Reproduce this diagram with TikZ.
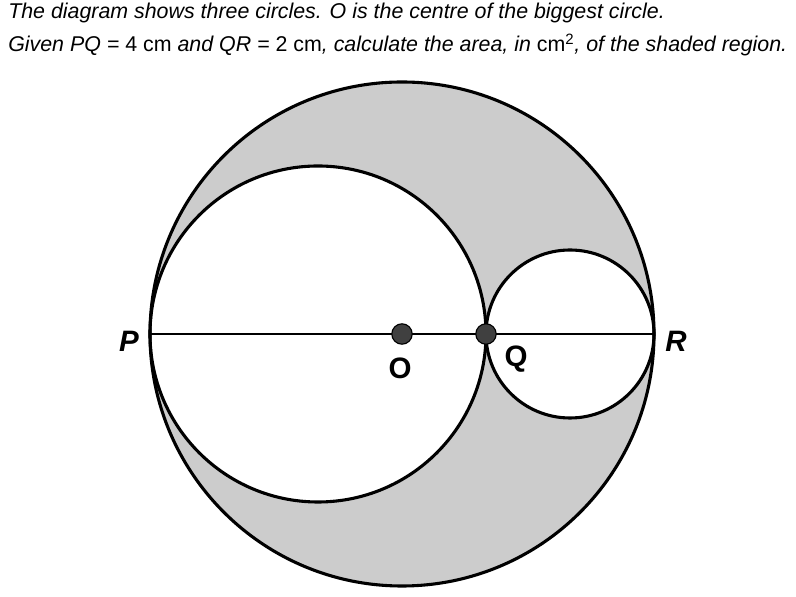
\documentclass[tikz,border=0pt]{standalone}
\usepackage{fontspec}
\setmainfont{Liberation Sans}
\definecolor{shadegray}{RGB}{204,204,204}
\definecolor{dotgray}{RGB}{64,64,64}
\tikzset{
  circ/.style={draw=black, line width=2.2pt},
  diam/.style={draw=black, line width=1.8pt},
  pointdot/.style={circle, fill=dotgray, draw=black, line width=0.8pt, minimum size=14.5pt, inner sep=0pt},
  ptlabel/.style={font=\fontsize{21}{24}\selectfont\bfseries, inner sep=0pt},
  caption/.style={font=\fontsize{15.2}{18}\selectfont\itshape, anchor=base west, inner sep=0pt}
}
\begin{document}
\begin{tikzpicture}[x=0.025cm,y=0.025cm]
\useasboundingbox (0,0) rectangle (796,597);
\fill[white] (0,0) rectangle (796,597);
% centres and points
\coordinate (O) at (402,263);
\coordinate (C1) at (318,263);
\coordinate (C2) at (570,263);
\coordinate (P) at (150,263);
\coordinate (Q) at (486,263);
\coordinate (R) at (654,263);
% shaded region
\fill[shadegray, even odd rule] (O) circle (252) (C1) circle (168) (C2) circle (84);
% circles
\draw[circ] (O) circle (252);
\draw[circ] (C1) circle (168);
\draw[circ] (C2) circle (84);
% diameter
\draw[diam] (P) -- (R);
% dots
\node[pointdot] (dotO) at (O) {};
\node[pointdot] (dotQ) at (Q) {};
% labels
\node[ptlabel] (lP) at (129,256) {\itshape P};
\node[ptlabel] (lO) at (400,229) {O};
\node[ptlabel] (lQ) at (516,238) {Q};
\node[ptlabel] (lR) at (676,256) {\itshape R};
% caption
\node[caption] (t1) at (8,578) {The diagram shows three circles. O is the centre of the biggest circle.};
\node[caption] (t2) at (8,545) {Given PQ = {\upshape 4 cm} and QR = {\upshape 2 cm}, calculate the area, in {\upshape cm\textsuperscript{2}}, of the shaded region.};
\end{tikzpicture}
\end{document}
